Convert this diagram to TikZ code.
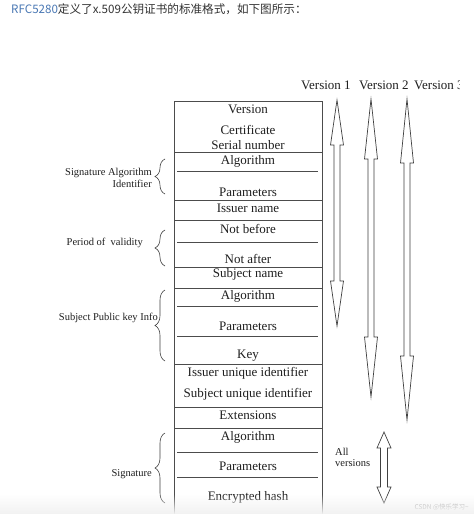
\documentclass[tikz,border=0pt]{standalone}
\usepackage{fontspec}
\setmainfont{Liberation Serif}
\newfontfamily\cjk{Noto Sans CJK SC}
\usetikzlibrary{decorations.pathreplacing,fadings}
\definecolor{linkblue}{HTML}{4A78B4}
\definecolor{titlegray}{HTML}{333333}
\tikzfading[name=fadeup, top color=transparent!100, bottom color=transparent!0]
\newcommand{\harrow}[6]{% x, ytop, ybot, headlen, headhalf, shafthalf
  \draw[arrowline] (#1,#2) -- (#1+#5,#2+#4) -- (#1+#6,#2+#4) -- (#1+#6,#3-#4)
    -- (#1+#5,#3-#4) -- (#1,#3) -- (#1-#5,#3-#4) -- (#1-#6,#3-#4)
    -- (#1-#6,#2+#4) -- (#1-#5,#2+#4) -- cycle;}
\begin{document}
\begin{tikzpicture}[x=1pt,y=-1pt,
  boxline/.style={draw=black!70, line width=0.7pt},
  cell/.style={font=\fontsize{13}{15}\selectfont, text=black!88, inner sep=0pt},
  side/.style={font=\fontsize{10.5}{12}\selectfont, text=black!88, inner sep=0pt},
  vlabel/.style={font=\fontsize{13}{15}\selectfont, text=black!88, inner sep=0pt, anchor=west},
  bracestyle/.style={draw=black!75, line width=0.6pt, decorate, decoration={brace, amplitude=10pt}},
  arrowline/.style={draw=black!75, line width=0.7pt, line join=miter}
]
\useasboundingbox (0,0) rectangle (474,514);
\fill[white] (0,0) rectangle (474,514);

% title
\node[anchor=west, inner sep=0pt, font=\cjk\fontsize{11.6}{14}\selectfont] (title) at (11,9)
  {\textcolor{linkblue}{RFC5280}\textcolor{titlegray}{定义了x.509公钥证书的标准格式，如下图所示：}};

% box outline
\coordinate (bl) at (174,514);
\coordinate (tl) at (174,101);
\coordinate (tr) at (322,101);
\coordinate (br) at (322,514);
\draw[boxline] (bl) -- (tl) -- (tr) -- (br);
% full separators
\foreach \y in {152,200,220,267,288,364,407,428}
  \draw[boxline] (174,\y) -- (322,\y);
% partial separators
\foreach \y in {171,242,306,336,452,477}
  \draw[boxline] (177,\y) -- (318,\y);

% cell texts
\node[cell] (version) at (248,109) {Version};
\node[cell] (cert) at (248,130) {Certificate};
\node[cell] (serial) at (248,145) {Serial number};
\node[cell] (alg1) at (248,161) {Algorithm};
\node[cell] (par1) at (248,192) {Parameters};
\node[cell] (issuer) at (248,208) {Issuer name};
\node[cell] (notbefore) at (248,229) {Not before};
\node[cell] (notafter) at (248,259) {Not after};
\node[cell] (subject) at (248,274) {Subject name};
\node[cell] (alg2) at (248,296) {Algorithm};
\node[cell] (par2) at (248,326) {Parameters};
\node[cell] (key) at (248,356) {Key};
\node[cell] (iuid) at (248,373) {Issuer unique identifier};
\node[cell] (suid) at (248,394) {Subject unique identifier};
\node[cell] (ext) at (248,415) {Extensions};
\node[cell] (alg3) at (248,437) {Algorithm};
\node[cell] (par3) at (248,466) {Parameters};
\node[cell] (hash) at (248,497) {Encrypted hash};

% braces
\coordinate (b1b) at (165,194); \coordinate (b1t) at (165,159);
\coordinate (b2b) at (165,266); \coordinate (b2t) at (165,230);
\coordinate (b3b) at (165,361); \coordinate (b3t) at (165,290);
\coordinate (b4b) at (165,503); \coordinate (b4t) at (165,433);
\draw[bracestyle] (b1b) -- (b1t);
\draw[bracestyle] (b2b) -- (b2t);
\draw[bracestyle] (b3b) -- (b3t);
\draw[bracestyle] (b4b) -- (b4t);

% side labels
\node[side, anchor=east, align=right] (sigalg) at (152,178) {Signature Algorithm\\[-0.5pt]Identifier};
\node[side, anchor=east] (period) at (143,243) {Period of\ \ validity};
\node[side, anchor=east] (spki) at (158,318) {Subject Public key Info};
\node[side, anchor=east] (sig) at (152,474) {Signature};
\node[side, anchor=west, align=left] (allv) at (335,457) {All\\[-1pt]versions};

% version labels
\node[vlabel] (v1) at (301,85) {Version 1};
\node[vlabel] (v2) at (359,85) {Version 2};
\begin{scope}
  \clip (400,70) rectangle (459,100);
  \node[vlabel] (v3) at (414,85) {Version 3};
\end{scope}

% hollow double arrows
\harrow{337}{100}{326}{45}{6.5}{3}
\harrow{371}{99}{397}{60}{6.5}{3}
\harrow{407}{99}{420}{64}{6.5}{3}
\harrow{384}{432}{503}{16}{7}{3.5}

% watermark
\node[anchor=east, inner sep=0pt, text=black!40, font=\cjk\fontsize{6.5}{8}\selectfont] (wm) at (469,507) {CSDN @快乐学习\textasciitilde};

% bottom fade of screenshot
\fill[black!5, path fading=fadeup] (0,494) rectangle (474,514);
\end{tikzpicture}
\end{document}
